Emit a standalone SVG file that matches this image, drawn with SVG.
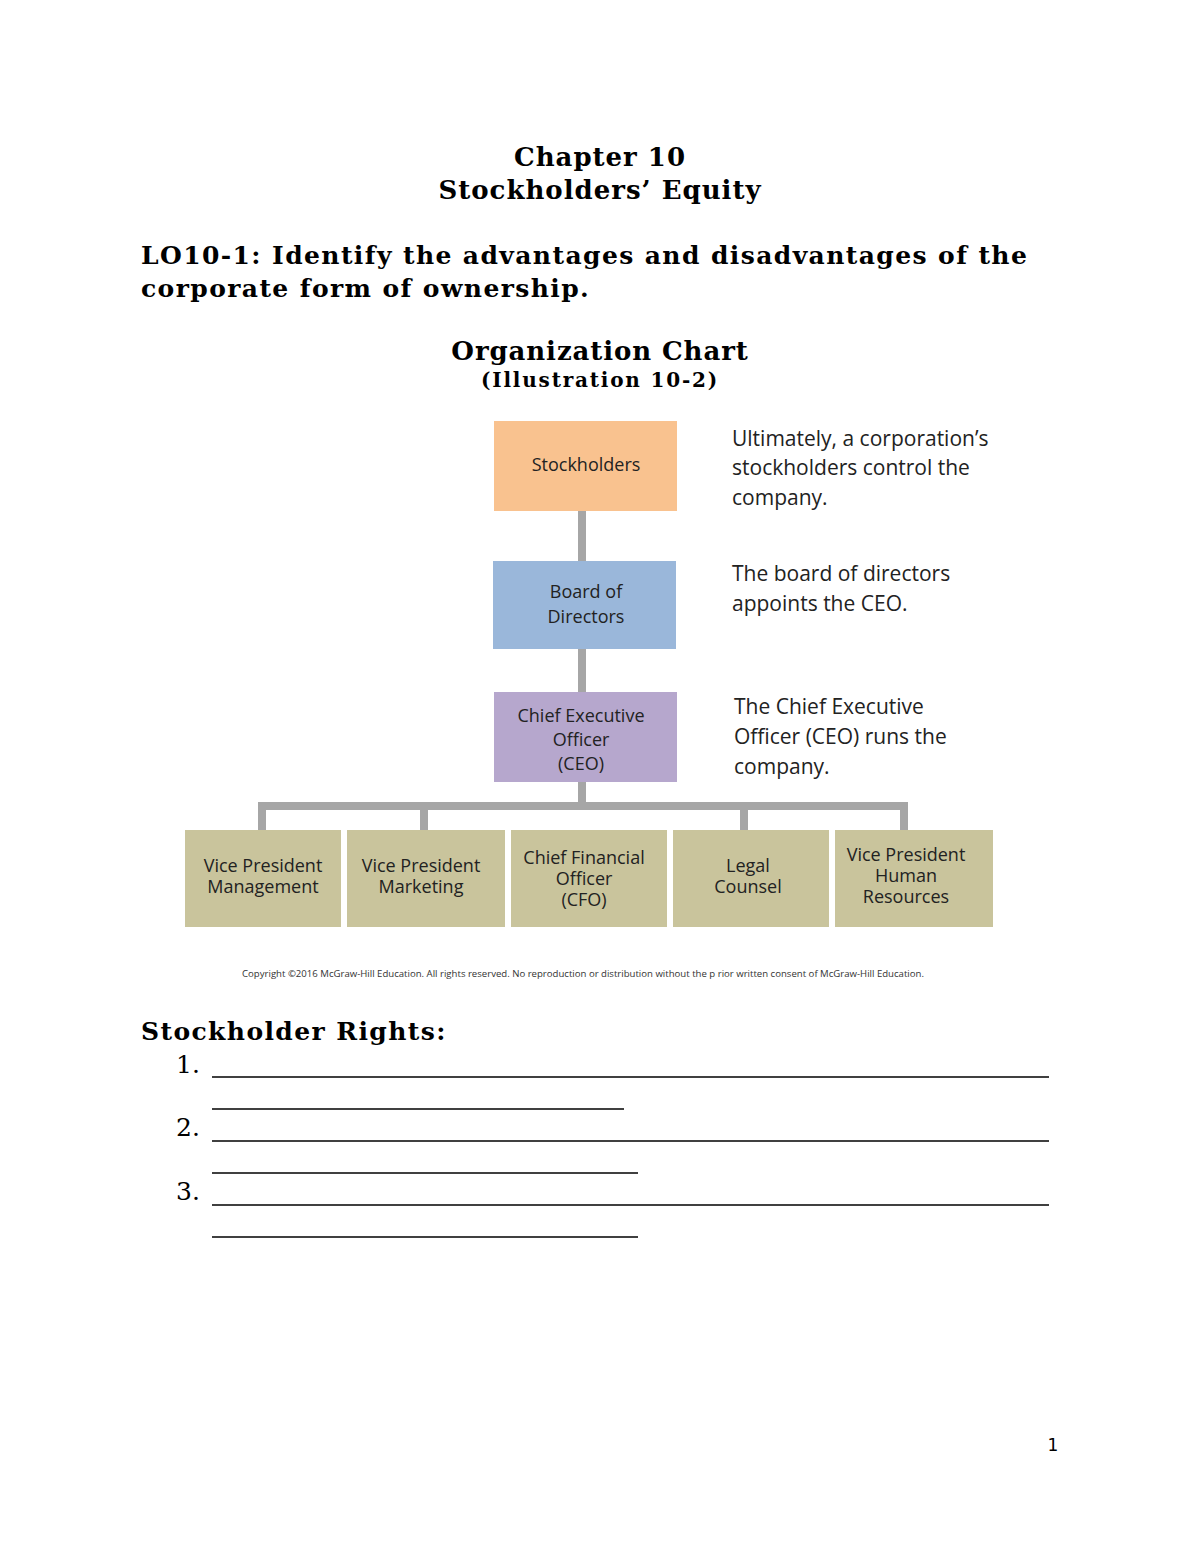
<svg xmlns="http://www.w3.org/2000/svg" width="1200" height="1553" viewBox="0 0 1200 1553">
<style>
.h{font-family:"DejaVu Serif",serif;font-weight:bold;fill:#000}
.n{font-family:"Open Sans","Liberation Sans",sans-serif;font-size:18px;fill:#222;text-anchor:middle}
.d{font-family:"Open Sans","Liberation Sans",sans-serif;font-size:21px;fill:#222}
.vp{fill:#c9c49c}
.ln{stroke:#000;stroke-width:1.5}
</style>
<rect width="1200" height="1553" fill="#fff"/>
<text class="h" x="600" y="166" font-size="26" text-anchor="middle" letter-spacing="1">Chapter 10</text>
<text class="h" x="600" y="199" font-size="26" text-anchor="middle" letter-spacing="1">Stockholders’ Equity</text>
<text class="h" x="141" y="264" font-size="25" letter-spacing="1.4">LO10-1: Identify the advantages and disadvantages of the</text>
<text class="h" x="141" y="297" font-size="25" letter-spacing="1.4">corporate form of ownership.</text>
<text class="h" x="600" y="360" font-size="26" text-anchor="middle" letter-spacing="0.9">Organization Chart</text>
<text x="600" y="387" font-size="20" text-anchor="middle" font-family="DejaVu Serif,serif" font-weight="600" letter-spacing="1.8">(Illustration 10-2)</text>
<g id="connectors" fill="none" stroke="#a6a6a6" stroke-width="8">
<path d="M582 510V562M582 648V692M582 781V806M262 830V806H904V830M424 806V830M744 806V830"/>
</g>
<g id="stockholders"><rect x="494" y="421" width="183" height="90" fill="#f9c28f"/><text class="n" x="586" y="471" font-size="22">Stockholders</text></g>
<g id="board"><rect x="493" y="561" width="183" height="88" fill="#9ab7da"/><text class="n" x="586" y="598" font-size="21">Board of</text><text class="n" x="586" y="623" font-size="21">Directors</text></g>
<g id="ceo"><rect x="494" y="692" width="183" height="90" fill="#b6a7cd"/><text class="n" x="581" y="722" font-size="21">Chief Executive</text><text class="n" x="581" y="746" font-size="21">Officer</text><text class="n" x="581" y="770" font-size="21">(CEO)</text></g>
<g id="vpm"><rect class="vp" x="185" y="830" width="156" height="97"/><text class="n" x="263" y="872">Vice President</text><text class="n" x="263" y="893">Management</text></g>
<g id="vpmk"><rect class="vp" x="347" y="830" width="158" height="97"/><text class="n" x="421" y="872">Vice President</text><text class="n" x="421" y="893">Marketing</text></g>
<g id="cfo"><rect class="vp" x="511" y="830" width="156" height="97"/><text class="n" x="584" y="864">Chief Financial</text><text class="n" x="584" y="885">Officer</text><text class="n" x="584" y="906">(CFO)</text></g>
<g id="legal"><rect class="vp" x="673" y="830" width="156" height="97"/><text class="n" x="748" y="872">Legal</text><text class="n" x="748" y="893">Counsel</text></g>
<g id="vphr"><rect class="vp" x="835" y="830" width="158" height="97"/><text class="n" x="906" y="861">Vice President</text><text class="n" x="906" y="882">Human</text><text class="n" x="906" y="903">Resources</text></g>
<text class="d" x="732" y="446">Ultimately, a corporation’s</text>
<text class="d" x="732" y="475">stockholders control the</text>
<text class="d" x="732" y="505">company.</text>
<text class="d" x="732" y="581">The board of directors</text>
<text class="d" x="732" y="611">appoints the CEO.</text>
<text class="d" x="734" y="714">The Chief Executive</text>
<text class="d" x="734" y="744">Officer (CEO) runs the</text>
<text class="d" x="734" y="774">company.</text>
<text x="583" y="977" font-size="9.6" text-anchor="middle" fill="#333" font-family="Open Sans,Liberation Sans,sans-serif">Copyright ©2016 McGraw-Hill Education. All rights reserved. No reproduction or distribution without the p rior written consent of McGraw-Hill Education.</text>
<text class="h" x="141" y="1040" font-size="25" letter-spacing="1.4">Stockholder Rights:</text>
<g font-family="DejaVu Serif,serif" font-size="25">
<text x="176" y="1073">1.</text><text x="176" y="1136">2.</text><text x="176" y="1200">3.</text>
</g>
<g class="ln">
<line x1="212" y1="1077" x2="1049" y2="1077"/><line x1="212" y1="1109" x2="624" y2="1109"/>
<line x1="212" y1="1141" x2="1049" y2="1141"/><line x1="212" y1="1173" x2="638" y2="1173"/>
<line x1="212" y1="1205" x2="1049" y2="1205"/><line x1="212" y1="1237" x2="638" y2="1237"/>
</g>
<text x="1053" y="1451" font-size="17" text-anchor="middle" font-family="DejaVu Sans,sans-serif">1</text>
</svg>
